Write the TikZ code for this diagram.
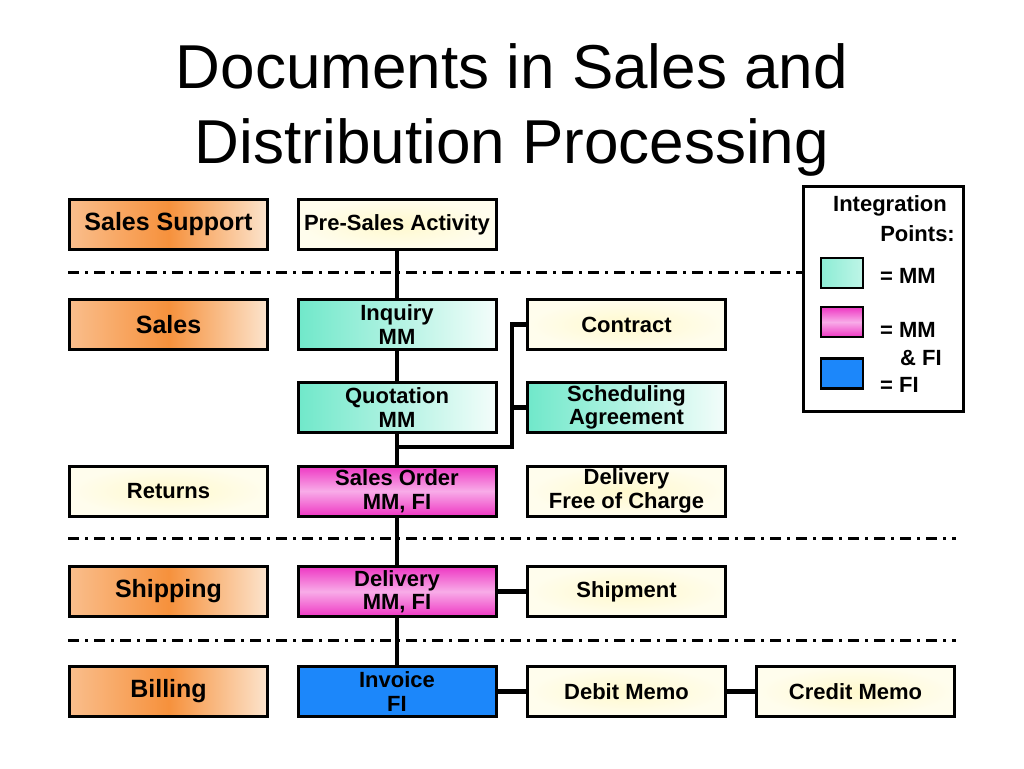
\documentclass[tikz,border=0pt]{standalone}
\usepackage{fontspec}
\setmainfont{Liberation Sans}
\usetikzlibrary{backgrounds}
\definecolor{catorange}{RGB}{246,145,60}
\definecolor{catlight}{RGB}{250,190,140}
\definecolor{catpale}{RGB}{252,228,205}
\definecolor{docyellow}{RGB}{255,249,205}
\definecolor{mmteal}{RGB}{112,232,202}
\definecolor{mmfipink}{RGB}{238,55,195}
\definecolor{mmfilight}{RGB}{248,172,232}
\definecolor{fiblue}{RGB}{28,135,250}
\begin{document}
\begin{tikzpicture}[x=1pt,y=-1pt]
\tikzset{basebox/.style={draw, line width=3pt, minimum width=198pt, minimum height=50pt, inner sep=0pt, align=center, font=\bfseries\fontsize{22}{23.5}\selectfont},
catbox/.style={basebox, left color=catlight, right color=catpale, middle color=catorange, font=\bfseries\fontsize{25}{27}\selectfont},
docbox/.style={basebox, inner color=docyellow, outer color=docyellow!35!white},
mmbox/.style={basebox, left color=mmteal, right color=mmteal!8!white},
mmfibox/.style={basebox, top color=mmfipink, bottom color=mmfipink, middle color=mmfilight},
fibox/.style={basebox, fill=fiblue},
link/.style={line width=4.5pt},
lanesep/.style={line width=3pt, dash pattern=on 11pt off 6pt on 3pt off 6pt},
swatch/.style={draw, line width=2.5pt, minimum width=42pt, minimum height=30pt, inner sep=0pt},
keytext/.style={font=\bfseries\fontsize{22}{23.5}\selectfont, inner sep=0pt}}
\useasboundingbox (0,0) rectangle (1024,768);
\node[font=\fontsize{62}{75}\selectfont, anchor=base] (titleone) at (512,88) {Documents in Sales and};
\node[font=\fontsize{62}{75}\selectfont, anchor=base] (titletwo) at (512,163) {Distribution Processing};
\node[catbox] (support) at (168.5,224.5) {Sales Support};
\node[docbox] (presales) at (397,224.5) {Pre-Sales Activity};
\node[catbox] (sales) at (168.5,324.5) {Sales};
\node[mmbox] (inquiry) at (397,324.5) {Inquiry\\MM};
\node[docbox] (contract) at (626.5,324.5) {Contract};
\node[mmbox] (quotation) at (397,407.5) {Quotation\\MM};
\node[mmbox] (scheduling) at (626.5,407.5) {Scheduling\\Agreement};
\node[docbox] (returns) at (168.5,491) {Returns};
\node[mmfibox] (salesorder) at (397,491) {Sales Order\\MM, FI};
\node[docbox] (freedelivery) at (626.5,491) {Delivery\\Free of Charge};
\node[catbox] (shipping) at (168.5,591.5) {Shipping};
\node[mmfibox] (delivery) at (397,591.5) {Delivery\\MM, FI};
\node[docbox] (shipment) at (626.5,591.5) {Shipment};
\node[catbox] (billing) at (168.5,691.5) {Billing};
\node[fibox] (invoice) at (397,691.5) {Invoice\\FI};
\node[docbox] (debitmemo) at (626.5,691.5) {Debit Memo};
\node[docbox] (creditmemo) at (855.5,691.5) {Credit Memo};
\node[draw, line width=2.5pt, minimum width=160pt, minimum height=225pt] (legend) at (883.5,299) {};
\node[keytext] (legendtitle) at (890,206) {Integration};
\node[keytext, anchor=east] (legendpoints) at (955,234) {Points:};
\node[swatch, left color=mmteal!80!white, right color=mmteal!45!white] (mmkey) at (842,273) {};
\node[keytext, anchor=west] (mmlabel) at (880,276) {= MM};
\node[swatch, top color=mmfipink, bottom color=mmfipink, middle color=mmfilight] (mmfikey) at (842,322) {};
\node[keytext, anchor=west] (mmfilabel) at (880,330) {= MM};
\node[keytext, anchor=west] (mmfiextra) at (900,358) {\& FI};
\node[swatch, fill=fiblue] (fikey) at (842,373.5) {};
\node[keytext, anchor=west] (filabel) at (880,385) {= FI};
\draw[lanesep] (68,272) -- (802,272);
\draw[lanesep] (68,538) -- (956,538);
\draw[lanesep] (68,640) -- (956,640);
\coordinate (split) at (397,447);
\coordinate (bend) at (512,447);
\begin{pgfonlayer}{background}
\draw[link] (presales) -- (invoice);
\end{pgfonlayer}
\draw[link] (split) -- (bend) |- (contract);
\draw[link] (bend |- scheduling) -- (scheduling);
\draw[link] (delivery) -- (shipment);
\draw[link] (invoice) -- (debitmemo);
\draw[link] (debitmemo) -- (creditmemo);
\end{tikzpicture}
\end{document}
